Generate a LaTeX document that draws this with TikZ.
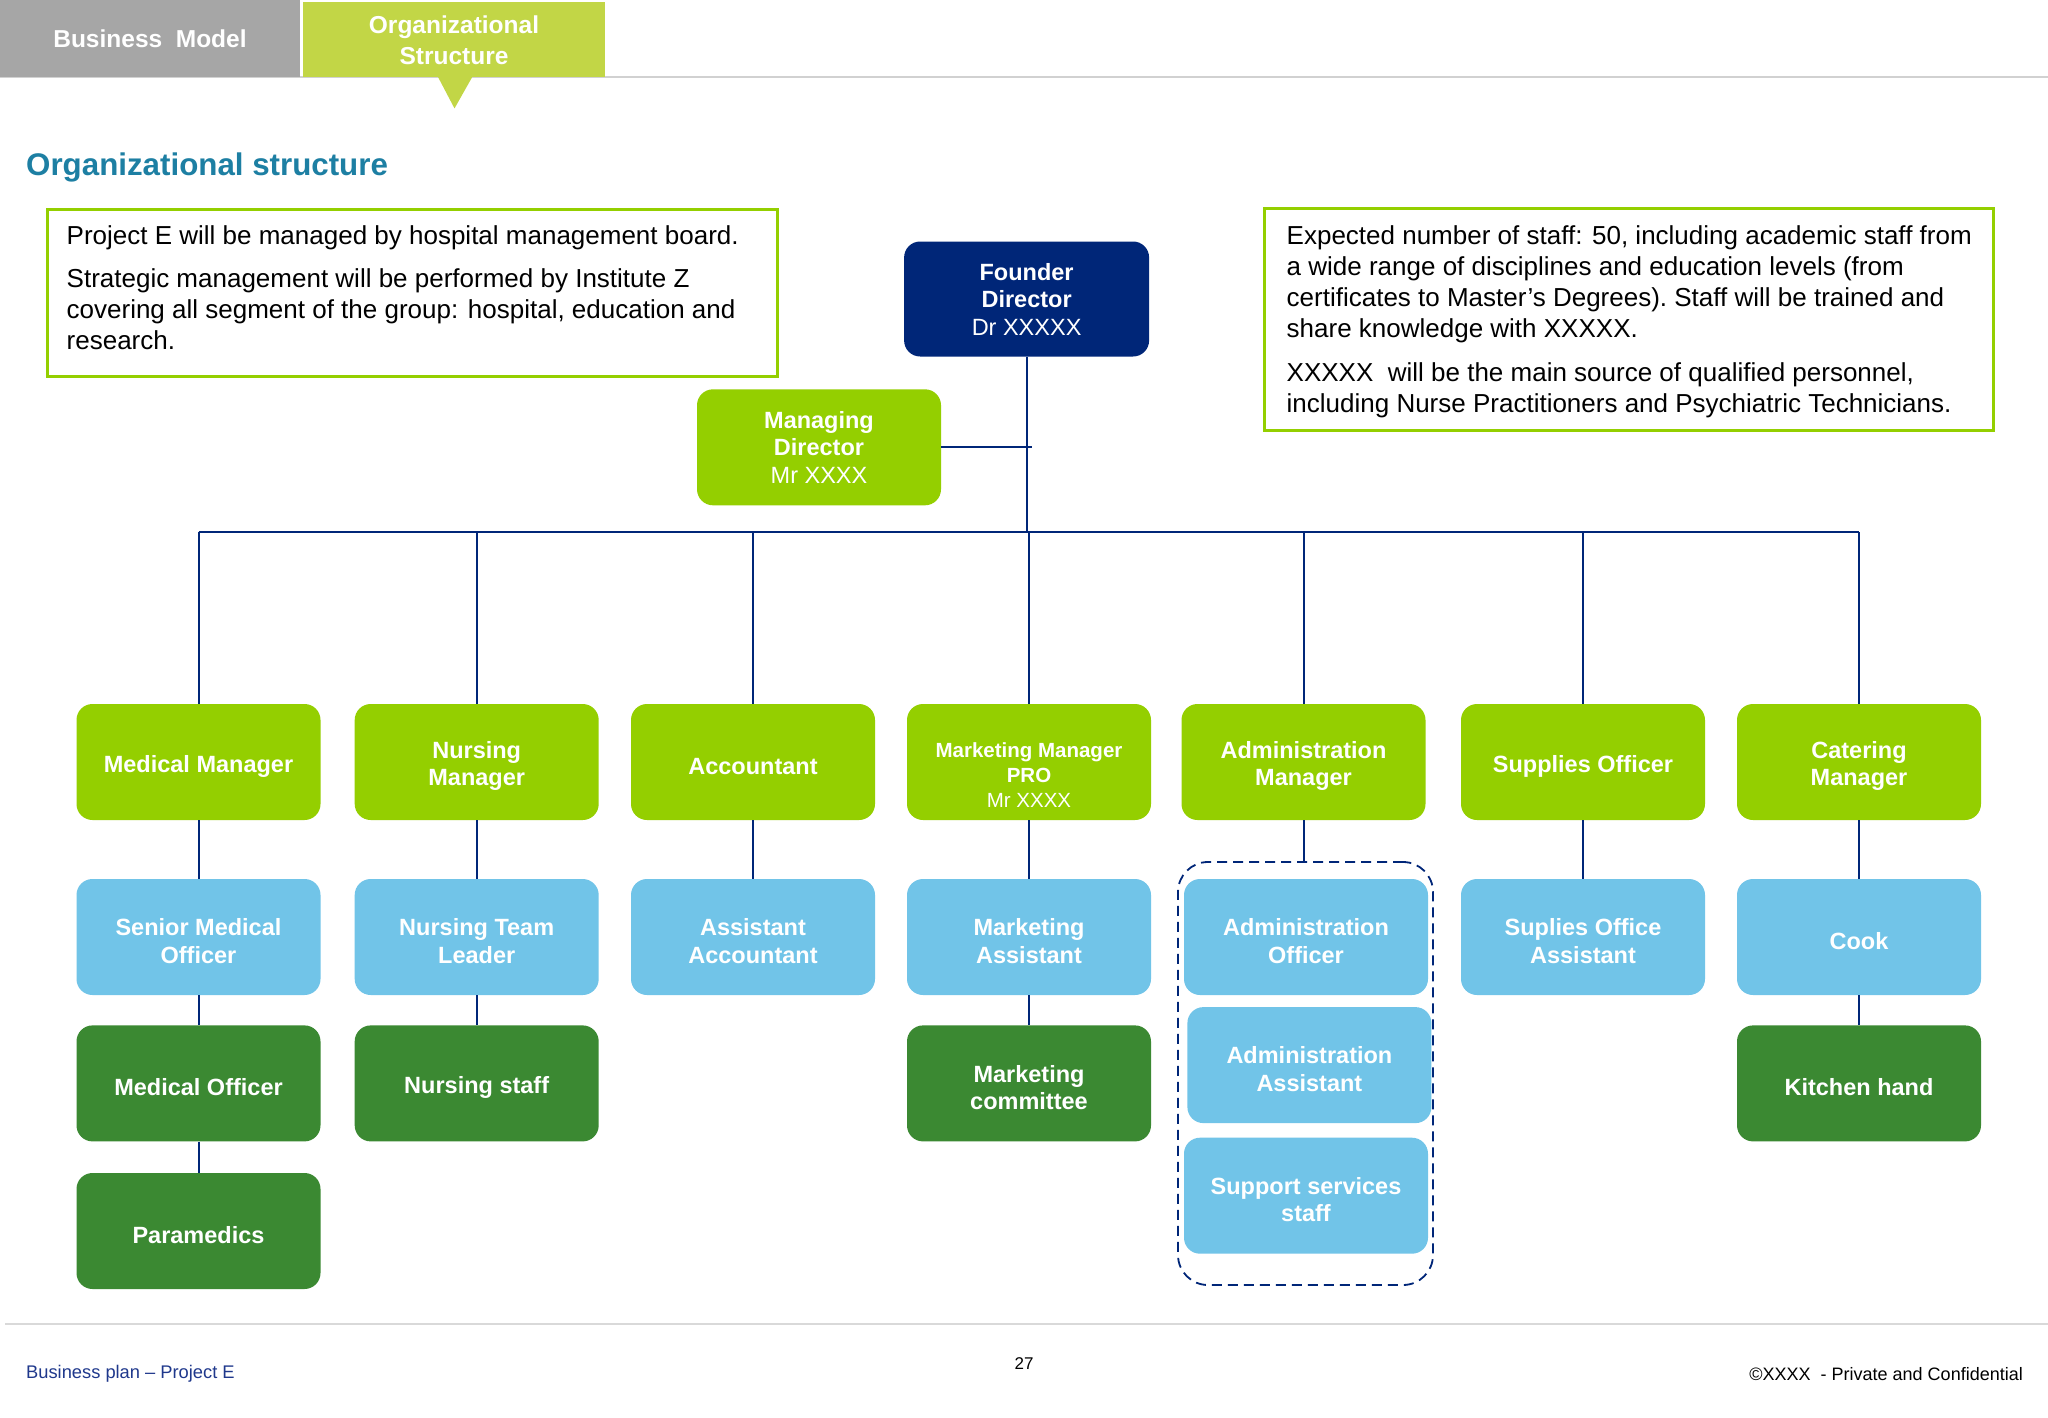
\documentclass[tikz,border=0pt]{standalone}
\usepackage{fontspec}
\setmainfont{Liberation Sans}
\usetikzlibrary{positioning}
\definecolor{navy}{RGB}{0,38,120}
\definecolor{cgreen}{RGB}{148,207,0}
\definecolor{cblue}{RGB}{113,196,232}
\definecolor{cdgreen}{RGB}{59,137,50}
\definecolor{tabgray}{RGB}{166,166,166}
\definecolor{tabgreen}{RGB}{194,214,70}
\definecolor{titleteal}{RGB}{29,127,163}
\definecolor{footblue}{RGB}{31,56,140}
\newcommand\stt{\rule{0pt}{25pt}}
\begin{document}
\begin{tikzpicture}[x=1pt,y=-1pt,
  box/.style={rounded corners=16pt, minimum width=244pt, minimum height=116pt, inner sep=0pt, align=center, text=white, font=\fontsize{23.5}{27.5}\selectfont\bfseries},
  mgr/.style={box, fill=cgreen},
  lb/.style={box, fill=cblue},
  dg/.style={box, fill=cdgreen},
  conn/.style={draw=navy, line width=2pt},
  txt/.style={anchor=north west, inner sep=0pt, align=left, text=black, font=\fontsize{26}{31.3}\selectfont},
  tbox/.style={draw=cgreen, line width=3pt, fill=white}]
\useasboundingbox (0,0) rectangle (2048,1418);
\fill[white] (0,0) rectangle (2048,1418);

% header tabs
\draw[line width=2pt, draw=black!18] (0,77) -- (2048,77);
\node[fill=tabgray, minimum width=300pt, minimum height=77pt, inner sep=0pt, text=white, font=\fontsize{24.5}{28}\selectfont\bfseries] (tab1) at (150,38.5) {Business\ \ Model};
\node[fill=tabgreen, minimum width=302pt, minimum height=75pt, inner sep=0pt, align=center, text=white, font=\fontsize{24.5}{31}\selectfont\bfseries] (tab2) at (454,40) {Organizational\\Structure};
\fill[tabgreen] (437.5,76) -- (472.8,76) -- (454.5,108.4) -- cycle;

% title
\node[anchor=west, inner sep=0pt, text=titleteal, font=\fontsize{31.3}{36}\selectfont\bfseries] (title) at (26,167) {Organizational structure};

% text boxes
\draw[tbox] (47,209) rectangle (777,376);
\node[txt] (ltext) at (66.5,225) {Project E will be managed\ by hospital management\ board.\\[12pt]Strategic management\ will be performed\ by Institute Z\\covering\ all segment of the group: hospital, education and\\research.};
\draw[tbox] (1264,208) rectangle (1993,430);
\node[txt] (rtext) at (1286.5,225) {Expected number of staff: 50, including academic staff from\\a wide range of disciplines and education levels (from\\certificates to Master’s Degrees).\ Staff will be trained and\\share knowledge\ with XXXXX.\\[12pt]XXXXX\ \ will be the main source of qualified\ personnel,\\including Nurse Practitioners and Psychiatric Technicians.};

% top
\node[box, fill=navy, minimum width=245pt, minimum height=115pt] (fd) at (1026.6,299) {Founder\\Director\\{\mdseries Dr XXXXX}};
\node[mgr] (md) at (819,447.3) {Managing\\Director\\{\mdseries Mr XXXX}};
\coordinate (bus) at (1026.6,531.6);

% managers
\node[mgr] (m1) at (198.5,762) {\stt Medical Manager};
\node[mgr] (m2) at (476.7,762) {\stt Nursing\\Manager};
\node[mgr] (m3) at (753,762) {\stt Accountant};
\node[mgr, font=\fontsize{20.5}{25}\selectfont\bfseries] (m4) at (1029,762) {\rule{0pt}{40pt}Marketing Manager\\PRO\\{\mdseries Mr XXXX}};
\node[mgr] (m5) at (1303.5,762) {\stt Administration\\Manager};
\node[mgr] (m6) at (1583,762) {\stt Supplies Officer};
\node[mgr] (m7) at (1859,762) {\stt Catering\\Manager};

% admin group
\node[draw=navy, dashed, dash pattern=on 10pt off 6pt, line width=1.8pt, rounded corners=30pt, minimum width=255pt, minimum height=423pt, inner sep=0pt] (grp) at (1305.5,1073.5) {};

% second row
\node[lb] (s1) at (198.5,937) {\stt Senior Medical\\Officer};
\node[lb] (s2) at (476.7,937) {\stt Nursing Team\\Leader};
\node[lb] (s3) at (753,937) {\stt Assistant\\Accountant};
\node[lb] (s4) at (1029,937) {\stt Marketing\\Assistant};
\node[lb] (s5) at (1306,937) {\stt Administration\\Officer};
\node[lb] (s6) at (1583,937) {\stt Suplies Office\\Assistant};
\node[lb] (s7) at (1859,937) {\stt Cook};

% third row
\node[dg] (t1) at (198.5,1083.4) {\stt Medical Officer};
\node[dg] (t2) at (476.7,1083.4) {\stt Nursing staff};
\node[dg] (t4) at (1029,1083.4) {\stt Marketing\\committee};
\node[lb] (a2) at (1309.4,1065.1) {\stt Administration\\Assistant};
\node[lb] (a3) at (1306,1195.7) {\stt Support services\\staff};
\node[dg] (t7) at (1859,1083.4) {\stt Kitchen hand};

% fourth row
\node[dg] (p1) at (198.5,1231) {\stt Paramedics};

% connectors
\draw[conn] (fd.south) -- (fd.south |- bus);
\draw[conn] (md.east) -- ([xshift=5pt]md.east -| fd.south);
\draw[conn] (m1.north |- bus) -- (m7.north |- bus);
\foreach \m in {m1,m2,m3,m4,m5,m6,m7}{
  \draw[conn] (\m.north) -- (\m.north |- bus);
}
\draw[conn] (m1.south) -- (s1.north);
\draw[conn] (s1.south) -- (t1.north);
\draw[conn] (t1.south) -- (p1.north);
\draw[conn] (m2.south) -- (s2.north);
\draw[conn] (s2.south) -- (t2.north);
\draw[conn] (m3.south) -- (s3.north);
\draw[conn] (m4.south) -- (s4.north);
\draw[conn] (s4.south) -- (t4.north);
\draw[conn] (m5.south) -- (m5.south |- grp.north);
\draw[conn] (m6.south) -- (s6.north);
\draw[conn] (m7.south) -- (s7.north);
\draw[conn] (s7.south) -- (t7.north);

% footer
\draw[line width=2pt, draw=black!15] (5,1324) -- (2048,1324);
\node[anchor=west, inner sep=0pt, text=footblue, font=\fontsize{18.3}{22}\selectfont] (f1) at (26,1374) {Business plan – Project E};
\node[inner sep=0pt, text=black, font=\fontsize{17}{20}\selectfont] (f2) at (1024,1363.6) {27};
\node[anchor=east, inner sep=0pt, text=black, font=\fontsize{18}{22}\selectfont] (f3) at (2023,1374) {©XXXX\ \ - Private and Confidential};
\end{tikzpicture}
\end{document}
